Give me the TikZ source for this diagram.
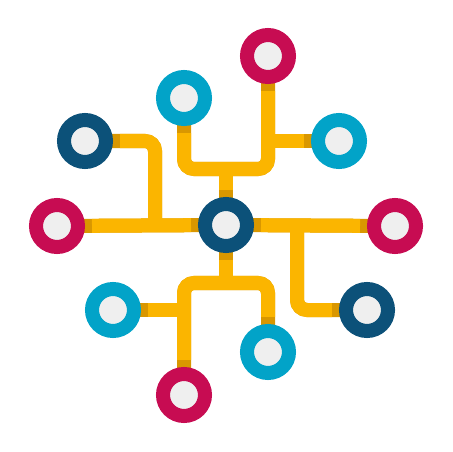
\documentclass[tikz,border=0pt]{standalone}
\usetikzlibrary{backgrounds}
\definecolor{wireY}{HTML}{FBB500}
\definecolor{wireD}{HTML}{D99700}
\definecolor{dotM}{HTML}{C70C52}
\definecolor{dotC}{HTML}{02A3C8}
\definecolor{hubB}{HTML}{0C5179}
\definecolor{dotIn}{HTML}{EFEFEF}
\tikzset{
  port/.style={circle, inner sep=0pt, minimum size=1.05cm, line width=0.35cm, fill=dotIn},
  wire/.style={line width=0.35cm, draw=wireY, rounded corners=0.25cm},
  stub/.style={line width=0.35cm, draw=wireD, rounded corners=0.25cm},
  cutA/.style={shorten <=0.875cm},
  cutB/.style={shorten >=0.875cm},
}
\begin{document}
\begin{tikzpicture}[x=0.025cm, y=-0.025cm]
\useasboundingbox (0,0) rectangle (452,452);
% dots
\node[port, draw=hubB] (hub) at (226,225) {};
\node[port, draw=dotM] (mTop) at (268,56) {};
\node[port, draw=dotC] (cTopL) at (184,98) {};
\node[port, draw=dotC] (cTopR) at (339,141) {};
\node[port, draw=hubB] (bL) at (85,141) {};
\node[port, draw=dotM] (mL) at (57,226) {};
\node[port, draw=dotM] (mR) at (395,226) {};
\node[port, draw=dotC] (cBotL) at (113,310) {};
\node[port, draw=hubB] (bR) at (367,310) {};
\node[port, draw=dotC] (cBotR) at (268,352) {};
\node[port, draw=dotM] (mBot) at (184,395) {};
% joints
\coordinate (jTop) at (226,169);
\coordinate (jBot) at (226,283);
\coordinate (jL) at (155,226);
\coordinate (jR) at (297,226);
\coordinate (jTR) at (268,141);
\coordinate (jBL) at (184,310);

\begin{scope}[on background layer]
% darker ends
\draw[stub] (mL.center) -- (hub.center) -- (mR.center);
\draw[stub] (bL.center) -- (bL -| jL) -- (jL);
\draw[stub] (hub.center) -- (jTop);
\draw[stub] (cTopL.center) -- (cTopL |- jTop) -- (mTop |- jTop) -- (mTop.center);
\draw[stub] (cTopR.center) -- (jTR);
\draw[stub] (hub.center) -- (jBot);
\draw[stub] (mBot.center) -- (mBot |- jBot) -- (cBotR |- jBot) -- (cBotR.center);
\draw[stub] (cBotL.center) -- (jBL);
\draw[stub] (jR) -- (jR |- bR) -- (bR.center);
% wires
\draw[wire, cutA, cutB] (mL.center) -- (hub.center);
\draw[wire, cutA, cutB] (hub.center) -- (mR.center);
\draw[wire, cutA] (bL.center) -- (bL -| jL) -- (jL);
\draw[wire, cutA] (hub.center) -- (jTop);
\draw[wire, cutA, cutB] (cTopL.center) -- (cTopL |- jTop) -- (mTop |- jTop) -- (mTop.center);
\draw[wire, cutA] (cTopR.center) -- (jTR);
\draw[wire, cutA] (hub.center) -- (jBot);
\draw[wire, cutA, cutB] (mBot.center) -- (mBot |- jBot) -- (cBotR |- jBot) -- (cBotR.center);
\draw[wire, cutA] (cBotL.center) -- (jBL);
\draw[wire, cutB] (jR) -- (jR |- bR) -- (bR.center);
\end{scope}
\end{tikzpicture}
\end{document}
